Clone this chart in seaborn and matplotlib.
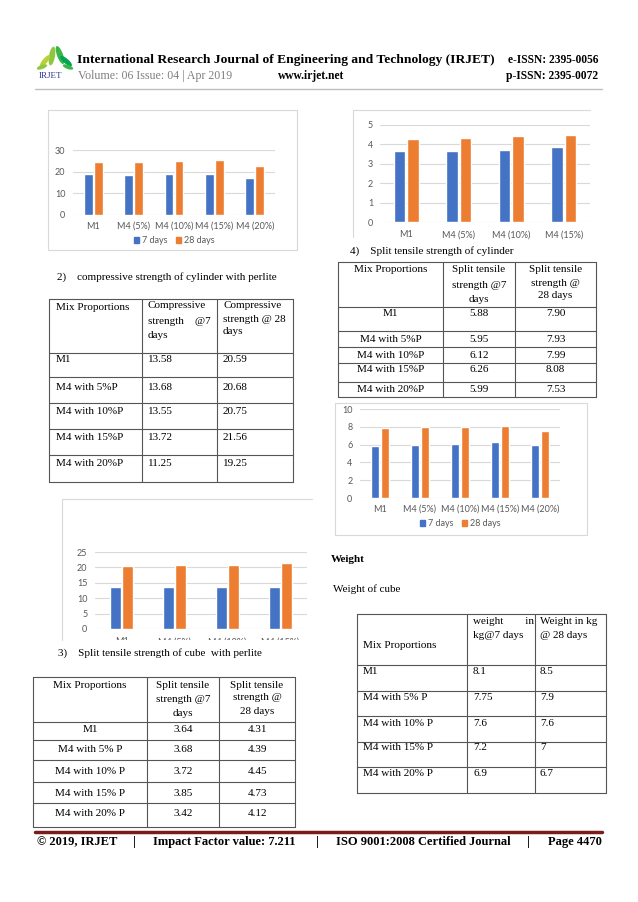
import numpy as np
import pandas as pd
import matplotlib.pyplot as plt
import seaborn as sns
from matplotlib.patches import Rectangle, Ellipse, Patch

W, H = 638, 902

# ---- chart data ----
mix_labels = ['M1', 'M4 (5%)', 'M4 (10%)', 'M4 (15%)', 'M4 (20%)']
age_labels = ['7 days', '28 days']
cube_comp_7 = [18.8, 18.6, 18.8, 18.9, 16.9]
cube_comp_28 = [24.5, 24.5, 24.7, 25.3, 22.7]
cube_split_7 = [3.64, 3.68, 3.72, 3.85]
cube_split_28 = [4.30, 4.35, 4.41, 4.50]
cyl_comp_7 = [13.58, 13.68, 13.55, 13.72]
cyl_comp_28 = [20.59, 20.68, 20.75, 21.56]
cyl_split_7 = [5.88, 5.95, 6.12, 6.26, 5.99]
cyl_split_28 = [7.90, 7.93, 7.99, 8.08, 7.53]

# ---- table data ----
t1_mix = ['M1', 'M4 with 5%P', 'M4 with 10%P', 'M4 with 15%P', 'M4 with 20%P']
t1_7 = ['13.58', '13.68', '13.55', '13.72', '11.25']
t1_28 = ['20.59', '20.68', '20.75', '21.56', '19.25']
t2_mix = ['M1', 'M4 with 5%P', 'M4 with 10%P', 'M4 with 15%P', 'M4 with 20%P']
t2_7 = ['5.88', '5.95', '6.12', '6.26', '5.99']
t2_28 = ['7.90', '7.93', '7.99', '8.08', '7.53']
t3_mix = ['M1', 'M4 with 5% P', 'M4 with 10% P', 'M4 with 15% P', 'M4 with 20% P']
t3_7 = ['3.64', '3.68', '3.72', '3.85', '3.42']
t3_28 = ['4.31', '4.39', '4.45', '4.73', '4.12']
t4_mix = ['M1', 'M4 with 5% P', 'M4 with 10% P', 'M4 with 15% P', 'M4 with 20% P']
t4_7 = ['8.1', '7.75', '7.6', '7.2', '6.9']
t4_28 = ['8.5', '7.9', '7.6', '7', '6.7']

sns.set_style('white')
plt.rcParams['font.family'] = ['Lato', 'DejaVu Sans']
SERIF = ['Liberation Serif', 'DejaVu Serif']
pal = ['#4472C4', '#ED7D31']
GREY = '#595959'

fig = plt.figure(figsize=(W / 100, H / 100), dpi=100)

# overlay axes in pixel coords for page text, tables, frames
ov = fig.add_axes([0, 0, 1, 1], zorder=5)
ov.set_xlim(0, W)
ov.set_ylim(H, 0)
ov.axis('off')
ov.patch.set_alpha(0)


def bar_chart(x0, x1, ytop, ybot, cats, v7, v28, ymax, step, width, xpad, ypad):
    ax = fig.add_axes([x0 / W, 1 - ybot / H, (x1 - x0) / W, (ybot - ytop) / H])
    df = pd.DataFrame({'mix': cats * 2,
                       'age': [age_labels[0]] * len(cats) + [age_labels[1]] * len(cats),
                       'val': v7 + v28})
    sns.barplot(data=df, x='mix', y='val', hue='age', palette=pal, saturation=1,
                width=width, gap=0.12, legend=False, ax=ax)
    ax.set_ylim(0, ymax)
    ax.set_yticks(np.arange(0, ymax + step / 2, step))
    ax.grid(axis='y', color='#D9D9D9', lw=0.8)
    ax.set_axisbelow(True)
    sns.despine(ax=ax, left=True, bottom=True)
    ax.tick_params(axis='x', length=0, labelsize=6.5, labelcolor=GREY, pad=xpad)
    ax.tick_params(axis='y', length=0, labelsize=6.5, labelcolor=GREY, pad=ypad)
    ax.set_xlabel('')
    ax.set_ylabel('')
    return ax


def add_legend(ax, y):
    handles = [Patch(color=c) for c in pal]
    ax.legend(handles, age_labels, loc='center', bbox_to_anchor=(0.5, y), ncol=2,
              frameon=False, fontsize=6.5, handlelength=0.6, handleheight=0.6,
              handletextpad=0.3, columnspacing=0.9, labelcolor=GREY)


def frame(x0, x1, y0, y1, sides='tlrb'):
    kw = dict(color='#D9D9D9', lw=0.8)
    if 't' in sides:
        ov.plot([x0, x1], [y0, y0], **kw)
    if 'b' in sides:
        ov.plot([x0, x1], [y1, y1], **kw)
    if 'l' in sides:
        ov.plot([x0, x0], [y0, y1], **kw)
    if 'r' in sides:
        ov.plot([x1, x1], [y0, y1], **kw)


def grid_table(xs, ys):
    for x in xs:
        ov.plot([x, x], [ys[0], ys[-1]], color='#555555', lw=0.8)
    for y in ys:
        ov.plot([xs[0], xs[-1]], [y, y], color='#555555', lw=0.8)


def txt(x, y, s, ha='left', size=8, weight='normal', color='black'):
    ov.text(x, y, s, ha=ha, va='center', fontsize=size, fontweight=weight,
            color=color, family=SERIF)


# ---- header ----
for (cx, cy, w, h, ang, c) in [(52, 56, 6, 19, 10, '#8DC63F'), (60, 55, 6, 19, -20, '#39B54A'),
                               (45, 61, 5, 15, 40, '#B5D334'), (66, 61, 5, 15, -50, '#00A651'),
                               (42, 67, 4, 11, 70, '#8DC63F'), (68, 67, 4, 11, -70, '#39B54A')]:
    ov.add_patch(Ellipse((cx, cy), w, h, angle=ang, color=c, lw=0))
txt(39, 76, 'IRJET', size=6.5, color='#2E3192')
txt(77, 60, 'International Research Journal of Engineering and Technology (IRJET)', size=9.7, weight='bold')
txt(598, 60, 'e-ISSN: 2395-0056', ha='right', size=8.3, weight='bold')
txt(78, 76, 'Volume: 06 Issue: 04 | Apr 2019', size=8.6, color='#7F7F7F')
txt(278, 76, 'www.irjet.net', size=8.3, weight='bold')
txt(598, 76, 'p-ISSN: 2395-0072', ha='right', size=8.3, weight='bold')
ov.plot([35, 602], [89, 89], color='#BFBFBF', lw=1)

# ---- chart 1: compressive strength of cube ----
frame(48, 297, 110, 250)
ax1 = bar_chart(73, 275, 150, 215, mix_labels, cube_comp_7, cube_comp_28, 30, 10, 0.5, 5, 5.5)
add_legend(ax1, -0.39)

# ---- chart 2: split tensile strength of cube (cropped) ----
frame(353, 590, 110, 237, sides='tl')
bar_chart(380, 590, 125, 222, mix_labels[:4], cube_split_7, cube_split_28, 5, 1, 0.5, 6, 5)
txt(350, 251, '4)    Split tensile strength of cylinder')

# ---- table 1 ----
txt(57, 277, '2)    compressive strength of cylinder with perlite')
grid_table([49, 142, 217, 293], [299, 353, 377, 403, 429, 455, 482])
txt(56, 307, 'Mix Proportions')
txt(148, 306, 'Compressive')
txt(148, 321, 'strength    @7')
txt(148, 335, 'days')
txt(223, 306, 'Compressive')
txt(223, 319, 'strength @ 28')
txt(223, 332, 'days')
for i, y in enumerate([360, 387, 412, 438, 463]):
    txt(56, y, t1_mix[i])
    txt(148, y, t1_7[i])
    txt(223, y, t1_28[i])

# ---- table 2 ----
grid_table([338, 443, 515, 596], [262, 307, 331, 347, 363, 382, 397])
txt(390.5, 270, 'Mix Proportions', ha='center')
txt(479, 270, 'Split tensile', ha='center')
txt(479, 285, 'strength @7', ha='center')
txt(479, 299, 'days', ha='center')
txt(555.5, 270, 'Split tensile', ha='center')
txt(555.5, 283, 'strength @', ha='center')
txt(555.5, 296, '28 days', ha='center')
for i, y in enumerate([313, 339, 355, 370, 389]):
    txt(390.5, y, t2_mix[i], ha='center')
    txt(479, y, t2_7[i], ha='center')
    txt(555.5, y, t2_28[i], ha='center')

# ---- chart 4: split tensile strength of cylinder ----
frame(335, 587, 403, 535)
ax4 = bar_chart(360, 560, 409, 498, mix_labels, cyl_split_7, cyl_split_28, 10, 2, 0.5, 5, 5.5)
add_legend(ax4, -0.29)

# ---- chart 3: compressive strength of cylinder (cropped at the bottom) ----
frame(62, 312, 499, 640, sides='tl')
bar_chart(95, 307, 552, 629, mix_labels[:4], cyl_comp_7, cyl_comp_28, 25, 5, 0.48, 6, 5.5)
ov.add_patch(Rectangle((40, 639.5), 290, 7, color='white', lw=0, zorder=1))
txt(58, 653, '3)    Split tensile strength of cube  with perlite')

# ---- table 3 ----
grid_table([33, 147, 219, 295], [677, 722, 740, 760, 782, 803, 827])
txt(90, 685, 'Mix Proportions', ha='center')
txt(183, 685, 'Split tensile', ha='center')
txt(183, 700, 'strength @7', ha='center')
txt(183, 713, 'days', ha='center')
txt(257, 685, 'Split tensile', ha='center')
txt(257, 698, 'strength @', ha='center')
txt(257, 711, '28 days', ha='center')
for i, y in enumerate([730, 750, 771, 793, 814]):
    txt(90, y, t3_mix[i], ha='center')
    txt(183, y, t3_7[i], ha='center')
    txt(257, y, t3_28[i], ha='center')

# ---- weight table ----
txt(331, 559, 'Weight', weight='bold')
txt(333, 589, 'Weight of cube')
grid_table([357, 467, 535, 606], [614, 665, 691, 716, 742, 767, 793])
txt(363, 646, 'Mix Proportions')
txt(473, 621, 'weight        in')
txt(473, 635, 'kg@7 days')
txt(540, 621, 'Weight in kg')
txt(540, 635, '@ 28 days')
for i, y in enumerate([672, 697, 723, 748, 774]):
    txt(363, y, t4_mix[i])
    txt(473, y, t4_7[i])
    txt(540, y, t4_28[i])

# ---- footer ----
ov.plot([35, 602], [832, 832], color='#7B1C1C', lw=2.5)
txt(37, 842, '\u00a9 2019, IRJET', size=9, weight='bold')
txt(134, 842, '|', ha='center', size=9, weight='bold')
txt(153, 842, 'Impact Factor value: 7.211', size=9, weight='bold')
txt(317, 842, '|', ha='center', size=9, weight='bold')
txt(336, 842, 'ISO 9001:2008 Certified Journal', size=9, weight='bold')
txt(528, 842, '|', ha='center', size=9, weight='bold')
txt(602, 842, 'Page 4470', ha='right', size=9, weight='bold')

fig.savefig('out.png', dpi=100, facecolor='white')
